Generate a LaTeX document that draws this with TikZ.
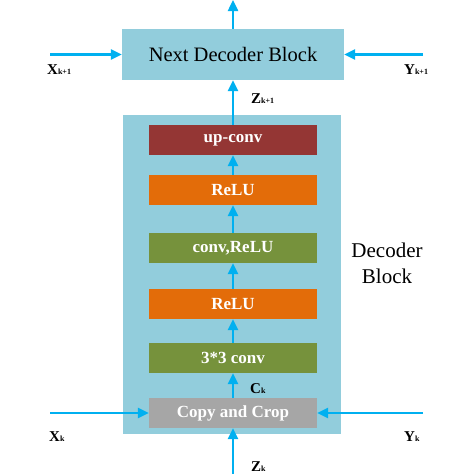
\documentclass[tikz,border=0pt]{standalone}
\usepackage{fontspec}
\setmainfont{Liberation Serif}
\usetikzlibrary{arrows.meta}
\definecolor{bloque}{HTML}{92CDDC}
\definecolor{flecha}{HTML}{00B0F0}
\definecolor{rojo}{HTML}{943634}
\definecolor{naranja}{HTML}{E36C09}
\definecolor{verde}{HTML}{76923C}
\definecolor{gris}{HTML}{A6A6A6}
\tikzset{
	capa/.style={minimum width=168pt, minimum height=30pt, inner sep=0pt, text=white, font=\fontsize{17}{17}\selectfont\bfseries},
	flujo/.style={draw=flecha, line width=2.4pt, -{Triangle[length=11pt,width=10pt]}},
	etiqueta/.style={anchor=base west, inner sep=0pt, font=\fontsize{15}{15}\selectfont\bfseries}
}
\newcommand{\sub}[1]{{\fontsize{8}{8}\selectfont #1}}
\begin{document}
\begin{tikzpicture}[x=1pt, y=-1pt]
	\useasboundingbox (0,0) rectangle (474,474);
	\node[fill=bloque, minimum width=218pt, minimum height=319pt, inner sep=0pt] (bloque) at (232,274.5) {}; %decoder block
	\node[fill=bloque, minimum width=222pt, minimum height=51pt, inner sep=0pt, font=\fontsize{20.5}{20.5}\selectfont] (next) at (233,54.5) {Next Decoder Block};
	\node[capa, fill=rojo] (upconv) at (233,140) {up-conv};
	\node[capa, fill=naranja] (relu1) at (233,190) {ReLU};
	\node[capa, fill=verde] (convrelu) at (233,248) {conv,ReLU};
	\node[capa, fill=naranja] (relu2) at (233,304) {ReLU};
	\node[capa, fill=verde] (conv) at (233,358) {3*3 conv};
	\node[capa, fill=gris] (crop) at (233,413) {Copy and Crop};
	\node[align=center, font=\fontsize{21}{26}\selectfont] (texto) at (387,263) {Decoder\\Block};
	% entradas y salidas
	\coordinate (salida) at (233,0);
	\coordinate (xk1) at (50,54.5);
	\coordinate (yk1) at (423,54.5);
	\coordinate (xk) at (50,413);
	\coordinate (yk) at (423,413);
	\coordinate (zk) at (233,474);
	\draw[flujo] (next) -- (salida);
	\draw[flujo] (xk1) -- (next);
	\draw[flujo] (yk1) -- (next);
	\draw[flujo] (upconv) -- (next);
	\draw[flujo] (relu1) -- (upconv);
	\draw[flujo] (convrelu) -- (relu1);
	\draw[flujo] (relu2) -- (convrelu);
	\draw[flujo] (conv) -- (relu2);
	\draw[flujo] (crop) -- (conv);
	\draw[flujo] (xk) -- (crop);
	\draw[flujo] (yk) -- (crop);
	\draw[flujo] (zk) -- (crop);
	% etiquetas
	\node[etiqueta] (lxk1) at (47,74) {X\sub{k+1}};
	\node[etiqueta] (lyk1) at (404,74) {Y\sub{k+1}};
	\node[etiqueta] (lzk1) at (251,103) {Z\sub{k+1}};
	\node[etiqueta] (lck) at (250,393) {C\sub{k}};
	\node[etiqueta] (lxk) at (49,441) {X\sub{k}};
	\node[etiqueta] (lyk) at (404,441) {Y\sub{k}};
	\node[etiqueta] (lzk) at (251,471) {Z\sub{k}};
\end{tikzpicture}
\end{document}
